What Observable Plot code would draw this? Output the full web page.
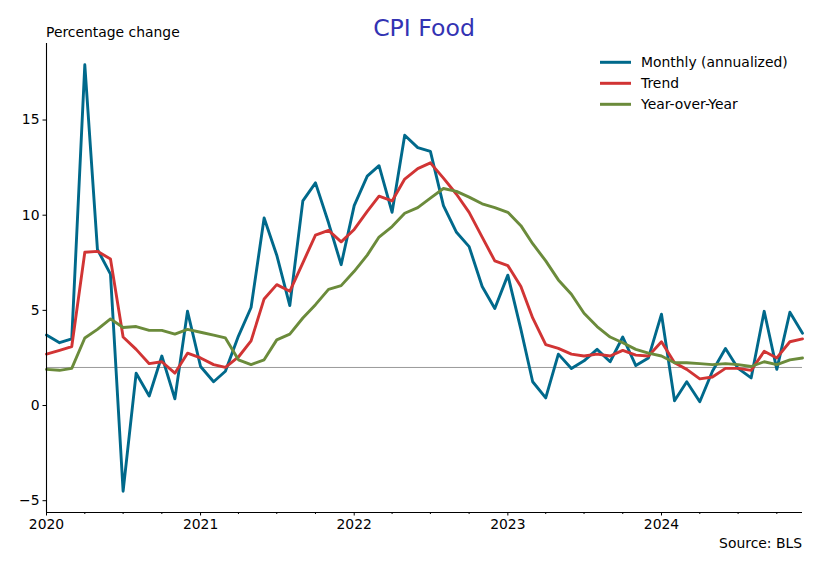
<!DOCTYPE html>
<html>
<head>
<meta charset="utf-8">
<script src="https://cdn.jsdelivr.net/npm/d3@7"></script>
<script src="https://cdn.jsdelivr.net/npm/@observablehq/plot@0.6"></script>
<style>
  html, body { margin: 0; padding: 0; background: #fff; }
  #chart { width: 819px; height: 568px; }
</style>
</head>
<body>
<div id="chart"></div>
<script>
// CPI food inflation, monthly from Jan 2020 to Dec 2024 (percent)
const startMonth = "2020-01-01";
const monthCount = 60;

const monthlyAnnualized = [3.7, 3.3, 3.5, 17.9, 8.2, 6.9, -4.5, 1.7, 0.5, 2.6,
  0.35, 4.95, 2.05, 1.25, 1.8, 3.65, 5.15, 9.85, 7.9, 5.25,
  10.75, 11.7, 9.6, 7.4, 10.5, 12.05, 12.6, 10.15, 14.2, 13.55,
  13.35, 10.5, 9.1, 8.35, 6.25, 5.1, 6.85, 4.0, 1.25, 0.4,
  2.7, 1.95, 2.35, 2.95, 2.3, 3.6, 2.1, 2.5, 4.8, 0.25,
  1.25, 0.2, 1.8, 3.0, 1.95, 1.45, 4.95, 1.9, 4.9, 3.8];

const trend = [2.7, 2.9, 3.1, 8.05, 8.1, 7.7, 3.6, 2.95, 2.2, 2.3,
  1.7, 2.75, 2.5, 2.15, 2.0, 2.55, 3.4, 5.6, 6.35, 6.0,
  7.5, 8.95, 9.2, 8.6, 9.25, 10.2, 11.0, 10.75, 11.9, 12.45,
  12.75, 11.95, 11.1, 10.15, 8.85, 7.6, 7.35, 6.25, 4.6, 3.2,
  3.0, 2.7, 2.6, 2.7, 2.6, 2.9, 2.65, 2.6, 3.35, 2.25,
  1.9, 1.4, 1.5, 1.95, 1.95, 1.85, 2.85, 2.5, 3.35, 3.5];

const yearOverYear = [1.9, 1.85, 1.95, 3.55, 4.0, 4.55, 4.1, 4.15, 3.95, 3.95,
  3.75, 4.0, 3.85, 3.7, 3.55, 2.4, 2.15, 2.4, 3.45, 3.75,
  4.6, 5.3, 6.1, 6.3, 7.05, 7.9, 8.85, 9.4, 10.1, 10.4,
  10.9, 11.4, 11.25, 10.95, 10.6, 10.4, 10.15, 9.45, 8.5, 7.6,
  6.6, 5.85, 4.85, 4.15, 3.6, 3.3, 2.95, 2.75, 2.6, 2.25,
  2.25, 2.2, 2.15, 2.2, 2.15, 2.05, 2.3, 2.15, 2.4, 2.5];

const seriesNames = ["Monthly (annualized)", "Trend", "Year-over-Year"];
const seriesColors = ["#00698b", "#d13434", "#6b8b3b"];
const yTicks = [-5, 0, 5, 10, 15];
const xTickYears = [2020, 2021, 2022, 2023, 2024];
const referenceLevel = 2;

const titleText = "CPI Food";
const yLabelText = "Percentage change";
const sourceText = "Source: BLS";

// Build a long table for the line marks
const start = new Date(startMonth);
const dates = d3.range(monthCount).map(i => d3.utcMonth.offset(start, i));
const seriesValues = [monthlyAnnualized, trend, yearOverYear];
const rows = seriesValues.flatMap((vals, s) =>
  vals.map((v, i) => ({date: dates[i], value: v, series: seriesNames[s]})));

// y limits padded by 5% of the data range on each side
const [lo, hi] = d3.extent(seriesValues.flat());
const pad = (hi - lo) * 0.05;
const yDomain = [lo - pad, hi + pad];

const yearDates = xTickYears.map(y => new Date(Date.UTC(y, 0, 1)));
const quarterDates = d3.utcMonth.range(start, d3.utcMonth.offset(dates[dates.length - 1], 1), 3)
  .filter(d => d.getUTCMonth() !== 0);

const W = 819, H = 568;
const M = {left: 46, right: 17, top: 43, bottom: 56};

const plot = Plot.plot({
  width: W,
  height: H,
  marginLeft: M.left,
  marginRight: M.right,
  marginTop: M.top,
  marginBottom: M.bottom,
  style: {fontFamily: "DejaVu Sans", fontSize: "13.9px", color: "#000", background: "#fff"},
  x: {type: "utc", domain: [dates[0], dates[dates.length - 1]]},
  y: {domain: yDomain},
  color: {domain: seriesNames, range: seriesColors},
  marks: [
    Plot.ruleY([referenceLevel], {stroke: "#999", strokeWidth: 1}),
    Plot.lineY(rows, {x: "date", y: "value", z: "series", stroke: "series", strokeWidth: 2.9}),
    Plot.ruleX([dates[0]], {stroke: "#000", strokeWidth: 1.1}),
    Plot.ruleY([yDomain[0]], {stroke: "#000", strokeWidth: 1.1}),
    Plot.axisY({ticks: yTicks, tickSize: 3.5, tickPadding: 3.5, label: null,
      tickFormat: d => (d < 0 ? "\u2212" + Math.abs(d) : String(d))}),
    Plot.axisX({ticks: yearDates, tickSize: 3.5, tickPadding: 3.5, label: null,
      tickFormat: d3.utcFormat("%Y")}),
    Plot.axisX({ticks: quarterDates, tickSize: 2, label: null, tickFormat: () => ""})
  ]
});

document.getElementById("chart").appendChild(plot);

// Title, axis label, source note and legend
const svg = d3.select(plot);
const frameCenter = (M.left + (W - M.right)) / 2;

svg.append("text")
  .attr("x", frameCenter).attr("y", 36)
  .attr("text-anchor", "middle")
  .attr("fill", "#3333b3")
  .style("font-size", "23.6px")
  .text(titleText);

svg.append("text")
  .attr("x", M.left).attr("y", 37)
  .attr("text-anchor", "start")
  .attr("fill", "#000")
  .text(yLabelText);

svg.append("text")
  .attr("x", W - M.right).attr("y", 547.5)
  .attr("text-anchor", "end")
  .attr("fill", "#000")
  .text(sourceText);

const legend = svg.append("g").attr("text-anchor", "start");
seriesNames.forEach((name, i) => {
  const y = 62.3 + i * 21;
  legend.append("line")
    .attr("x1", 600).attr("x2", 631)
    .attr("y1", y).attr("y2", y)
    .attr("stroke", seriesColors[i])
    .attr("stroke-width", 3);
  legend.append("text")
    .attr("x", 641).attr("y", y)
    .attr("dy", "0.36em")
    .attr("text-anchor", "start")
    .attr("fill", "#000")
    .text(name);
});
</script>
</body>
</html>
